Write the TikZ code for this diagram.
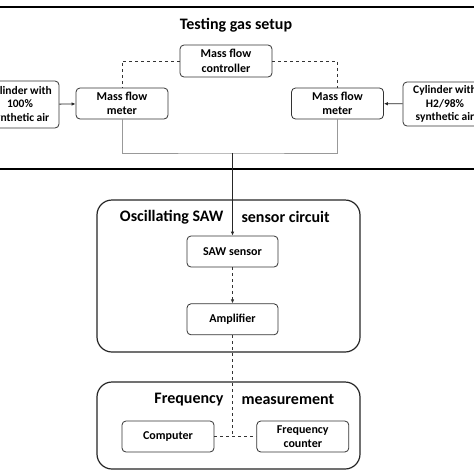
\documentclass[tikz,border=0pt]{standalone}
\usepackage{fontspec}
\setmainfont{Carlito}
\usetikzlibrary{arrows.meta,positioning}

\begin{document}
\begin{tikzpicture}[
  x=1pt, y=-1pt,
  node distance=36pt,
  title/.style={font=\fontsize{16}{16}\selectfont\bfseries},
  unit/.style={rectangle, rounded corners=4pt, draw=black!80, line width=0.8pt, font=\fontsize{12}{14.5}\selectfont\bfseries, align=center, minimum width=92pt, minimum height=31pt, inner sep=1pt},
  tank/.style={unit, font=\fontsize{11.5}{13.5}\selectfont\bfseries},
  group/.style={rounded corners=15pt, draw=black!85, line width=1.2pt},
  ctrl/.style={dashed, draw=black!80, line width=0.8pt},
  flow/.style={draw=black!85, line width=0.8pt, -{Latex[length=4pt,width=3.5pt]}},
  gas/.style={draw=black!40, line width=1pt}
]
  \clip (0,0) rectangle (474,474);
  \fill[white] (0,0) rectangle (474,474);

  % testing gas setup
  \draw[line width=1.3pt] (-5,7) rectangle (479,169);
  \node (gastitle) [title] at (236,25) {Testing gas setup};
  \node (mfc) [unit, minimum height=32pt] at (226,61) {Mass flow\\controller};
  \node (mfmL) [unit] at (122,103.5) {Mass flow\\meter};
  \node (mfmR) [unit] at (337.5,103.5) {Mass flow\\meter};
  \node (cylL) [tank, minimum width=78pt, minimum height=47pt] at (20,104.5) {Cylinder with\\100\%\\synthetic air};
  \node (cylR) [tank, minimum width=84pt, minimum height=44pt] at (445,104) {Cylinder with\\H2/98\%\\synthetic air};
  \coordinate (join) at (232.5,153);

  % oscillating SAW sensor circuit
  \draw[group] (97,200) rectangle (360,352);
  \node (osctitle) [title, anchor=east] at (227,217) {Oscillating SAW};
  \node (osctitle2) [title, anchor=west] at (238,217) {sensor circuit};
  \node (saw) [unit, minimum width=91pt] at (232.5,251.5) {SAW sensor};
  \node (amp) [unit, minimum width=91pt, below=of saw] {Amplifier};

  % frequency measurement
  \draw[group] (97,382) rectangle (360,469);
  \node (freqtitle) [title, anchor=east] at (227,400) {Frequency};
  \node (freqtitle2) [title, anchor=west] at (238,400) {measurement};
  \node (comp) [unit] at (168,436.5) {Computer};
  \node (fcount) [unit, right=42pt of comp] {Frequency\\counter};

  % connectors
  \draw[flow] (cylL) -- (mfmL);
  \draw[flow] (cylR) -- (mfmR);
  \draw[ctrl] (mfc.west) -| (mfmL.north);
  \draw[ctrl] (mfc.east) -| (mfmR.north);
  \draw[gas] (mfmL.south) |- (join) -| (mfmR.south);
  \draw[flow] (join) -- (saw.north);
  \draw[ctrl, -{Latex[length=4pt,width=3.5pt]}] (saw.south) -- (amp.north);
  \draw[ctrl] (amp.south) -- (amp.south |- comp.east);
  \draw[ctrl] (comp.east) -- (fcount.west);
\end{tikzpicture}
\end{document}
